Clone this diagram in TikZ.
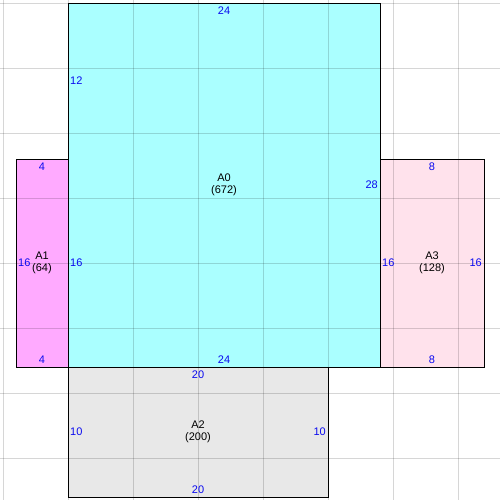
\documentclass[tikz,border=0pt]{standalone}
\usepackage{fontspec}
\setmainfont{Liberation Sans}
\definecolor{czero}{RGB}{170,255,255}
\definecolor{cone}{RGB}{255,170,255}
\definecolor{ctwo}{RGB}{232,232,232}
\definecolor{cthree}{RGB}{255,226,236}
\definecolor{lblue}{RGB}{10,10,240}
\tikzset{
  room/.style={draw=black,line width=0.9pt},
  gridline/.style={draw=black,opacity=0.16,line width=0.9pt},
  dimlabel/.style={inner sep=0pt,text=lblue,font=\fontsize{11}{12}\selectfont},
  roomname/.style={inner sep=0pt,align=center,font=\fontsize{11}{11.5}\selectfont}
}
\begin{document}
\begin{tikzpicture}[x=1pt,y=-1pt]
\useasboundingbox (0,0) rectangle (500,500);
\fill[white] (0,0) rectangle (500,500);
% fills
\fill[czero] (68,3) rectangle (380,367);
\fill[cone] (16,159) rectangle (68,367);
\fill[cthree] (380,159) rectangle (484,367);
\fill[ctwo] (68,367) rectangle (328,497);
% grid
\foreach \v in {3,68,133,198,263,328,393,458}{
  \draw[gridline] (\v,0) -- (\v,500);
  \draw[gridline] (0,\v) -- (500,\v);
}
% borders
\draw[room] (68,3) rectangle (380,367);
\draw[room] (16,159) rectangle (68,367);
\draw[room] (380,159) rectangle (484,367);
\draw[room] (68,367) rectangle (328,497);
% A0
\node[roomname] (n0) at (224,185) {A0\\(672)};
\node[dimlabel,anchor=north] (a0t) at (224,7) {24};
\node[dimlabel,anchor=south] (a0b) at (224,364) {24};
\node[dimlabel,anchor=west] (a0l1) at (70,81) {12};
\node[dimlabel,anchor=west] (a0l2) at (70,263) {16};
\node[dimlabel,anchor=east] (a0r) at (378,185) {28};
% A1
\node[roomname] (n1) at (42,263) {A1\\(64)};
\node[dimlabel,anchor=north] (a1t) at (42,163) {4};
\node[dimlabel,anchor=south] (a1b) at (42,364) {4};
\node[dimlabel,anchor=west] (a1l) at (18,263) {16};
% A3
\node[roomname] (n3) at (432,263) {A3\\(128)};
\node[dimlabel,anchor=north] (a3t) at (432,163) {8};
\node[dimlabel,anchor=south] (a3b) at (432,364) {8};
\node[dimlabel,anchor=west] (a3l) at (382,263) {16};
\node[dimlabel,anchor=east] (a3r) at (482,263) {16};
% A2
\node[roomname] (n2) at (198,432) {A2\\(200)};
\node[dimlabel,anchor=north] (a2t) at (198,371) {20};
\node[dimlabel,anchor=south] (a2b) at (198,494) {20};
\node[dimlabel,anchor=west] (a2l) at (70,432) {10};
\node[dimlabel,anchor=east] (a2r) at (326,432) {10};
\end{tikzpicture}
\end{document}
